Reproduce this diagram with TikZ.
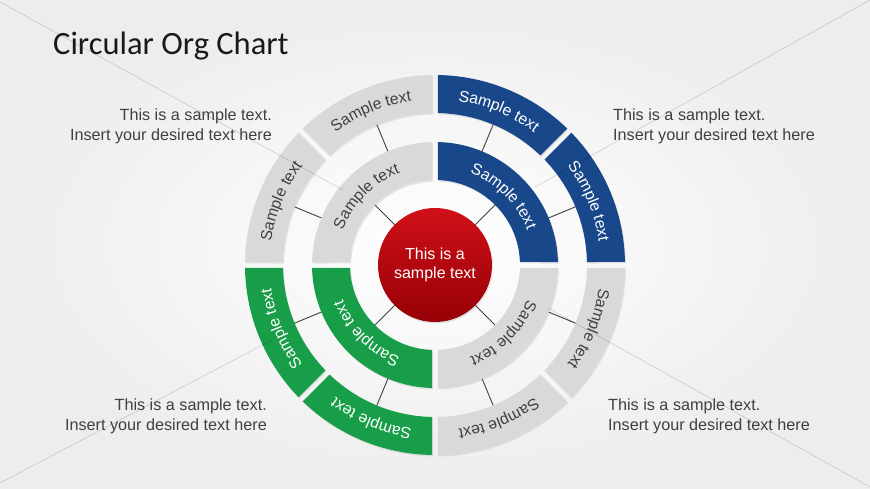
\documentclass[tikz,border=0pt]{standalone}
\usepackage{fontspec}
\setmainfont{Liberation Sans}
\newfontfamily\headfont{Carlito}
\usetikzlibrary{decorations.text}
\usetikzlibrary{shadows}

\definecolor{chartblue}{RGB}{24,71,138}
\definecolor{chartgreen}{RGB}{24,158,72}
\definecolor{chartgray}{RGB}{217,217,217}
\definecolor{inktext}{RGB}{64,64,64}
\definecolor{hubtop}{RGB}{208,16,24}
\definecolor{hubbottom}{RGB}{150,0,6}

\newcommand{\partfont}{\fontsize{15.8}{15.8}\selectfont}
\newcommand{\ringpart}[6]{%
  \pgfmathsetmacro\gout{asin(3/#4)}%
  \pgfmathsetmacro\gin{asin(3/#3)}%
  \pgfmathsetmacro\rlbl{(#3+#4)/2-5.5}%
  \fill[fill=#5, ringshadow] ({#1+\gout}:#4pt) arc[start angle=#1+\gout, end angle=#2-\gout, radius=#4pt]
    -- ({#2-\gin}:#3pt) arc[start angle=#2-\gin, end angle=#1+\gin, radius=#3pt] -- cycle;
  \path[decorate, decoration={text along path, text align=center, text color=#6,
    text={|\partfont|Sample text}}] ({#2}:\rlbl pt) arc[start angle=#2, end angle=#1, radius=\rlbl pt];
}

\tikzset{
  ringshadow/.style={drop shadow={opacity=0.18, shadow xshift=1pt, shadow yshift=-1.5pt}},
  linkline/.style={draw=inktext, line width=0.9pt},
  faintline/.style={draw=black, opacity=0.16, line width=0.6pt},
  notetext/.style={text=inktext, font=\fontsize{16.2}{19.3}\selectfont, inner sep=0pt}
}

\begin{document}
\begin{tikzpicture}[x=1pt,y=1pt]
  \useasboundingbox (-435,-224) rectangle (435,265);
  \shade[inner color=white, outer color=black!7] (-435,-224) rectangle (435,265);

  \node[circle, minimum size=114pt, inner sep=0pt, top color=hubtop, bottom color=hubbottom,
    drop shadow={opacity=0.2, shadow xshift=1pt, shadow yshift=-1.5pt}] (hub) at (0,0) {};

  \foreach \a in {45,135,225,315} {
    \coordinate (in\a) at (\a:86pt);
    \draw[linkline] (hub.\a) -- (in\a);
  }
  \foreach \a [count=\i] in {22.5,67.5,112.5,157.5,202.5,247.5,292.5,337.5} {
    \coordinate (ia\i) at (\a:122pt);
    \coordinate (oa\i) at (\a:153pt);
    \draw[linkline] (ia\i) -- (oa\i);
  }

  \foreach \a/\b/\c/\t in {0/90/chartblue/white, 90/180/chartgray/inktext, 180/270/chartgreen/white, 270/360/chartgray/inktext}
    {\ringpart{\a}{\b}{85}{123}{\c}{\t}}
  \foreach \a/\b/\c/\t in {0/45/chartblue/white, 45/90/chartblue/white, 90/135/chartgray/inktext, 135/180/chartgray/inktext,
    180/225/chartgreen/white, 225/270/chartgreen/white, 270/315/chartgray/inktext, 315/360/chartgray/inktext}
    {\ringpart{\a}{\b}{152}{190}{\c}{\t}}

  \node[text=white, align=center, font=\fontsize{16}{19}\selectfont] (hubtext) at (hub.center) {This is a\\sample text};

  \coordinate (fa1) at (-435,263);  \coordinate (fa2) at (-92,75);
  \coordinate (fb1) at (435,265);   \coordinate (fb2) at (100,78);
  \coordinate (fc1) at (-435,-218); \coordinate (fc2) at (-163,-75);
  \coordinate (fd1) at (435,-222);  \coordinate (fd2) at (113,-43);
  \draw[faintline] (fa1) -- (fa2);
  \draw[faintline] (fb1) -- (fb2);
  \draw[faintline] (fc1) -- (fc2);
  \draw[faintline] (fd1) -- (fd2);

  \node[anchor=base west, inner sep=0pt, text=black!90, font=\headfont\fontsize{32.5}{36}\selectfont] (title) at (-382,210) {Circular Org Chart};
  \node[notetext, anchor=east, align=right] (notetl) at (-163,138.8) {This is a sample text.\\Insert your desired text here};
  \node[notetext, anchor=west, align=left] (notetr) at (178,138.8) {This is a sample text.\\Insert your desired text here};
  \node[notetext, anchor=east, align=right] (notebl) at (-168,-151.2) {This is a sample text.\\Insert your desired text here};
  \node[notetext, anchor=west, align=left] (notebr) at (173,-151.2) {This is a sample text.\\Insert your desired text here};
\end{tikzpicture}
\end{document}
